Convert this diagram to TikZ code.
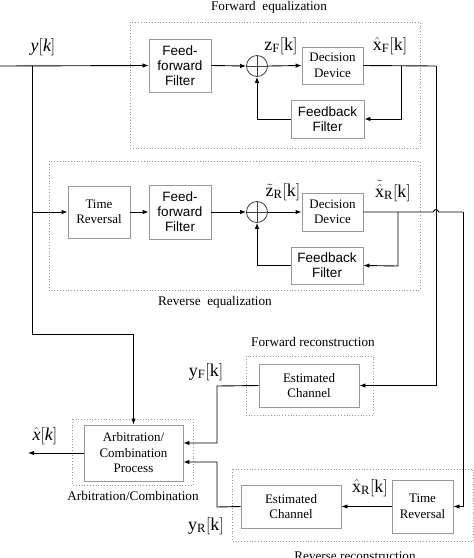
\documentclass[tikz,border=0pt]{standalone}
\usepackage{fontspec}
\setmainfont{Liberation Serif}
\setsansfont{Liberation Sans}
\usetikzlibrary{arrows.meta}
\begin{document}
\begin{tikzpicture}[x=1pt,y=-1pt,
  line width=0.9pt,
  >={Latex[length=6pt,width=4.5pt]},
  blk/.style={draw=gray!80, line width=0.9pt, inner sep=0pt, align=center, font=\fontsize{13}{15.5}\selectfont},
  sblk/.style={blk, font=\sffamily\fontsize{13.5}{15}\selectfont},
  grp/.style={draw=gray!80, dotted, line width=0.8pt},
  ttl/.style={font=\fontsize{13.2}{15}\selectfont},
  lbl/.style={font=\fontsize{18}{20}\selectfont, inner sep=0pt},
  summ/.style={circle, draw=black!75, line width=0.8pt, minimum size=21pt, inner sep=0pt,
    path picture={\draw[line width=0.7pt, black!75] (path picture bounding box.north) -- (path picture bounding box.south)
      (path picture bounding box.west) -- (path picture bounding box.east);}}
]
\useasboundingbox (0,0) rectangle (474,558);

% group frames
\draw[grp] (130,22) rectangle (420,148);
\draw[grp] (49,161) rectangle (420,290);
\draw[grp] (246,356) rectangle (373,415);
\draw[grp] (72,419) rectangle (193,485);
\draw[grp] (232,469) rectangle (473,541);

% titles
\node[ttl] (tF) at (269,7) {Forward\ \ equalization};
\node[ttl] (tR) at (215,302) {Reverse\ \ equalization};
\node[ttl] (tFR) at (313,342) {Forward reconstruction};
\node[ttl] (tA) at (133,496) {Arbitration/Combination};
\node[ttl] (tRR) at (355,556) {Reverse reconstruction};

% forward equalization
\node[sblk, minimum width=62pt, minimum height=53pt] (ffF) at (180,65.5) {Feed-\\forward\\Filter};
\node[summ] (sF) at (257,66) {};
\node[blk, minimum width=61pt, minimum height=37pt] (ddF) at (332.5,65.5) {Decision\\Device};
\node[sblk, minimum width=73pt, minimum height=38pt] (fbF) at (327.5,119) {Feedback\\Filter};

% reverse equalization
\node[blk, minimum width=62pt, minimum height=52pt] (trR) at (99,212) {Time\\Reversal};
\node[sblk, minimum width=62pt, minimum height=54pt] (ffR) at (180,212) {Feed-\\forward\\Filter};
\node[summ] (sR) at (257,212) {};
\node[blk, minimum width=61pt, minimum height=38pt] (ddR) at (332.5,212) {Decision\\Device};
\node[sblk, minimum width=72pt, minimum height=37pt] (fbR) at (327,265.5) {Feedback\\Filter};

% reconstruction and arbitration
\node[blk, minimum width=100pt, minimum height=43pt] (ecF) at (309,385.5) {Estimated\\Channel};
\node[blk, minimum width=99pt, minimum height=56pt] (arb) at (133.5,453) {Arbitration/\\Combination\\Process};
\node[blk, minimum width=100pt, minimum height=43pt] (ecR) at (291,506.5) {Estimated\\Channel};
\node[blk, minimum width=61pt, minimum height=53pt] (trB) at (422.5,506.5) {Time\\Reversal};

% labels
\node[lbl] (ly) at (43,47) {$\mathit{y}[\mathit{k}]$};
\node[lbl] (lzF) at (281,46) {$\mathrm{z}_{\mathrm{F}}[\mathrm{k}]$};
\node[lbl] (lxF) at (390,46) {$\hat{\mathrm{x}}_{\mathrm{F}}[\mathrm{k}]$};
\node[lbl] (lzR) at (283,192) {$\tilde{\mathrm{z}}_{\mathrm{R}}[\mathrm{k}]$};
\node[lbl] (lxR) at (393,191) {$\tilde{\hat{\mathrm{x}}}_{\mathrm{R}}[\mathrm{k}]$};
\node[lbl] (lyF) at (206,372) {$\mathrm{y}_{\mathrm{F}}[\mathrm{k}]$};
\node[lbl] (lx) at (45,436) {$\hat{\mathit{x}}[\mathit{k}]$};
\node[lbl] (lxR2) at (370,488) {$\hat{\mathrm{x}}_{\mathrm{R}}[\mathrm{k}]$};
\node[lbl] (lyR) at (206,526) {$\mathrm{y}_{\mathrm{R}}[\mathrm{k}]$};

% coordinates
\coordinate (in) at (0,66);
\coordinate (spl) at (32,66);
\coordinate (splR) at (32,212);
\coordinate (dn) at (32,334);
\coordinate (dnA) at (133.5,334);
\coordinate (oF) at (436,66);
\coordinate (bF) at (401,66);
\coordinate (bFd) at (401,119);
\coordinate (bR) at (398,212);
\coordinate (bRd) at (398,266);
\coordinate (oR) at (463,212);
\coordinate (cyF) at (217,386);
\coordinate (cyR) at (217,507);
\coordinate (out) at (28,453);

% forward path
\draw[->] (in) -- (ffF.west);
\draw[->] (ffF.east) -- (sF.west);
\draw[->] (sF.east) -- (ddF.west);
\draw (ddF.east) -- (oF);
\draw[->] (oF) |- (ecF.east);
\draw[->] (bF) -- (bFd) -- (fbF.east);
\draw[->] (fbF.west) -| (sF.south);

% input distribution
\draw (spl) -- (dn) -- (dnA);
\draw[->] (dnA) -- (arb.north);
\draw[->] (splR) -- (trR.west);

% reverse path
\draw[->] (trR.east) -- (ffR.west);
\draw[->] (ffR.east) -- (sR.west);
\draw[->] (sR.east) -- (ddR.west);
\draw (ddR.east) -- (433.5,212) arc (180:360:2.5) -- (oR);
\draw[->] (oR) |- (trB.east);
\draw[->] (bR) -- (bRd) -- (fbR.east);
\draw[->] (fbR.west) -| (sR.south);

% reconstruction paths
\draw[->] (ecF.west) -- (cyF) |- (arb.east |- 0,443);
\draw[->] (trB.west) -- (ecR.east);
\draw[->] (ecR.west) -- (cyR) |- (arb.east |- 0,462);
\draw[->] (arb.west) -- (out);
\end{tikzpicture}
\end{document}
